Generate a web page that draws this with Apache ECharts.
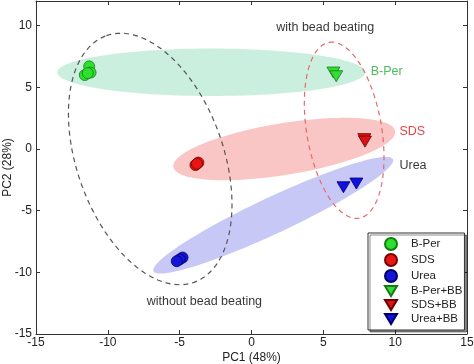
<!DOCTYPE html>
<html><head><meta charset="utf-8">
<script src="https://cdn.jsdelivr.net/npm/echarts@6/dist/echarts.min.js"></script>
<style>html,body{margin:0;padding:0;background:#fff}#c{width:474px;height:364px}</style>
</head><body><div id="c"></div>
<script>
// ---- data ----
const groupNames = ['B-Per','SDS','Urea','B-Per+BB','SDS+BB','Urea+BB'];
const bperPts  = [[-11.3,6.7],[-11.2,6.2],[-11.6,6.0],[-11.4,6.15]];
const sdsPts   = [[-3.7,-1.1],[-3.9,-1.3],[-3.8,-1.2]];
const ureaPts  = [[-4.8,-8.8],[-5.0,-8.95],[-5.2,-9.1]];
const bperBB   = [[5.7,6.2],[5.9,5.9]];
const sdsBB    = [[7.85,0.8],[7.9,0.6]];
const ureaBB   = [[6.4,-3.1],[7.3,-2.8]];
// shaded group ellipses: centre, end of major axis, minor/major ratio
const shadeCenters = [[-2.8,6.22],[2.28,0.0],[1.51,-5.37]];
const shadeEnds    = [[7.92,6.22],[10.0,1.46],[9.84,-0.83]];
const shadeRatios  = [0.154,0.23,0.137];
// dashed ellipses (without / with bead beating)
const ringCenters = [[-7.05,-0.81],[6.45,1.52]];
const ringEnds    = [[-10.1,9.19],[5.41,8.65]];
const ringRatios  = [0.56,0.42];
// annotations
const noteTexts = ['with bead beating','without bead beating','B-Per','SDS','Urea'];
const noteX = [5.13,-3.28,8.3,10.3,10.3];
const noteY = [9.86,-12.4,6.24,1.38,-1.32];
const xTicks = [-15,-10,-5,0,5,10,15];
const yTicks = [-15,-10,-5,0,5,10];

// ---- styles ----
const FONT = 'Liberation Sans, Arial, sans-serif';
const fillCols = ['rgba(160,225,195,0.55)','rgba(245,150,150,0.55)','rgba(155,155,240,0.55)'];
const ringCols = ['#555555','#e66a6a'];
const markFill = ['#2ee02e','#e81515','#1515d5','#33dd33','#dd1111','#1111dd'];
const markEdge = ['#167a16','#7a0000','#00006a','#167a16','#6a0000','#00006a'];
const noteCols = ['#000','#000','#22aa33','#e01515','#000'];
const noteAlign = ['center','center','left','left','left'];
const tri = 'path://M0,0L12,0L6,10Z';

function ellipsePts(api){
  const c = api.coord([api.value(0), api.value(1)]);
  const e = api.coord([api.value(2), api.value(3)]);
  const ratio = api.value(4);
  const dx = e[0]-c[0], dy = e[1]-c[1];
  const a = Math.hypot(dx,dy), b = a*ratio;
  const ux = dx/a, uy = dy/a;
  const pts = [];
  for (let i=0;i<120;i++){
    const t = 2*Math.PI*i/120, ct=Math.cos(t), st=Math.sin(t);
    pts.push([c[0]+a*ct*ux - b*st*uy, c[1]+a*ct*uy + b*st*ux]);
  }
  return pts;
}
const shadeData = shadeCenters.map((c,i)=>[c[0],c[1],shadeEnds[i][0],shadeEnds[i][1],shadeRatios[i]]);
const ringData = ringCenters.map((c,i)=>[c[0],c[1],ringEnds[i][0],ringEnds[i][1],ringRatios[i]]);

const ptSets = [bperPts,sdsPts,ureaPts,bperBB,sdsBB,ureaBB];
const markSeries = ptSets.map((d,i)=>({
  name: groupNames[i], type:'scatter', data:d, z:5,
  symbol: i<3 ? 'circle' : tri,
  symbolSize: i<3 ? 11 : [13,11],
  itemStyle:{color:markFill[i], borderColor:markEdge[i], borderWidth:0.8, opacity:1},
  emphasis:{disabled:true}
}));

const axisCommon = {
  type:'value', min:-15, interval:5,
  axisLine:{show:true, onZero:false, lineStyle:{color:'#333', width:1}},
  axisTick:{show:true, inside:true, length:4, lineStyle:{color:'#333'}},
  splitLine:{show:false}
};

const chart = echarts.init(document.getElementById('c'), null, {renderer:'canvas'});
chart.setOption({
  animation:false,
  textStyle:{fontFamily:FONT},
  grid:{left:36, right:7, top:1, bottom:30, containLabel:false, outerBoundsMode:'none'},
  xAxis:[
    Object.assign({}, axisCommon, {max:15, position:'bottom',
      name:'PC1 (48%)', nameLocation:'middle', nameGap:18, nameMoveOverlap:false,
      nameTextStyle:{color:'#222', fontSize:12, fontFamily:FONT},
      axisLabel:{color:'#222', fontSize:12, margin:3, fontFamily:FONT,
        formatter:v=>xTicks.includes(v)?String(v):''}}),
    Object.assign({}, axisCommon, {max:15, position:'top', axisLabel:{show:false}})
  ],
  yAxis:[
    Object.assign({}, axisCommon, {max:12, position:'left',
      name:'PC2 (28%)', nameLocation:'middle', nameGap:22, nameMoveOverlap:false,
      nameTextStyle:{color:'#222', fontSize:12, fontFamily:FONT},
      axisLabel:{color:'#222', fontSize:12, margin:4, fontFamily:FONT,
        formatter:v=>yTicks.includes(v)?String(v):''}}),
    Object.assign({}, axisCommon, {max:12, position:'right', axisLabel:{show:false}})
  ],
  legend:{
    data: groupNames, orient:'vertical', left:368, top:233,
    itemWidth:12, itemHeight:12, itemGap:2,
    padding:[4,2,5,16],
    backgroundColor:'#fff', borderColor:'#333', borderWidth:1,
    shadowColor:'rgba(0,0,0,0.45)', shadowBlur:0, shadowOffsetX:2, shadowOffsetY:2,
    textStyle:{color:'#222', fontSize:11.5, lineHeight:12, fontFamily:FONT, padding:[0,0,0,9]},
    selectedMode:false
  },
  series:[
    {type:'custom', name:'shade', coordinateSystem:'cartesian2d', data:shadeData, z:1, silent:true,
      encode:{x:[0,2], y:[1,3]},
      renderItem:(params,api)=>({type:'polygon', shape:{points:ellipsePts(api)},
        style:{fill:fillCols[params.dataIndex], stroke:null}})},
    {type:'custom', name:'ring', coordinateSystem:'cartesian2d', data:ringData, z:3, silent:true,
      encode:{x:[0,2], y:[1,3]},
      renderItem:(params,api)=>({type:'polygon', shape:{points:ellipsePts(api)},
        style:{fill:null, stroke:ringCols[params.dataIndex], lineWidth:1.2, lineDash:[5,4]}})},
    ...markSeries,
    {type:'scatter', name:'notes', symbolSize:0, z:6, silent:true,
      data: noteTexts.map((t,i)=>({value:[noteX[i],noteY[i]],
        label:{show:true, position:[0,0], formatter:t, color:noteCols[i], fontSize:12.5,
          fontFamily:FONT, align:noteAlign[i], verticalAlign:'middle', textBorderWidth:0}}))}
  ]
});
</script></body></html>
